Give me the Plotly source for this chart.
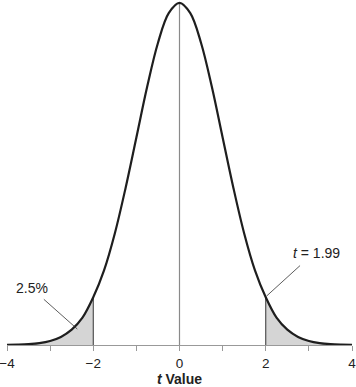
import plotly.graph_objects as go

# t values and density
t_vals = [-4.0, -3.75, -3.5, -3.25, -3.0, -2.75, -2.5, -2.25, -2.0, -1.75, -1.5, -1.25, -1.0,
          -0.75, -0.5, -0.25, 0.0, 0.25, 0.5, 0.75, 1.0, 1.25, 1.5, 1.75, 2.0, 2.25, 2.5,
          2.75, 3.0, 3.25, 3.5, 3.75, 4.0]
density = [0.0003, 0.0005, 0.0010, 0.0022, 0.0047, 0.0094, 0.0178, 0.0318, 0.0555, 0.0868,
           0.1298, 0.1828, 0.2415, 0.3005, 0.3515, 0.3862, 0.3982, 0.3862, 0.3515, 0.3005,
           0.2415, 0.1828, 0.1298, 0.0868, 0.0555, 0.0318, 0.0178, 0.0094, 0.0047, 0.0022,
           0.0010, 0.0005, 0.0003]
crit = 2.0
tick_vals = [-4, -3, -2, -1, 0, 1, 2, 3, 4]
tick_text = ["\u22124", "", "\u22122", "", "0", "", "2", "", "4"]

left_x = [x for x in t_vals if x <= -crit]
left_y = [y for x, y in zip(t_vals, density) if x <= -crit]
right_x = [x for x in t_vals if x >= crit]
right_y = [y for x, y in zip(t_vals, density) if x >= crit]
y_crit = density[t_vals.index(crit)]
peak = max(density)

fig = go.Figure()
fill_col = "#d5d5d5"
fig.add_trace(go.Scatter(x=left_x, y=left_y, fill="tozeroy", fillcolor=fill_col, mode="none",
                         line=dict(shape="spline")))
fig.add_trace(go.Scatter(x=right_x, y=right_y, fill="tozeroy", fillcolor=fill_col, mode="none",
                         line=dict(shape="spline")))
fig.add_trace(go.Scatter(x=[0, 0], y=[0, peak], mode="lines", line=dict(color="#8a8a8a", width=1.2)))
fig.add_trace(go.Scatter(x=[-crit, -crit], y=[0, y_crit], mode="lines", line=dict(color="#333", width=1)))
fig.add_trace(go.Scatter(x=[crit, crit], y=[0, y_crit], mode="lines", line=dict(color="#333", width=1)))
fig.add_trace(go.Scatter(x=t_vals, y=density, mode="lines",
                         line=dict(color="#1e1e1e", width=2.2, shape="spline")))

font = dict(family="Liberation Sans, Arial, sans-serif", size=14, color="#222")
tfont = dict(family="Liberation Sans, Arial, sans-serif", size=13.5, color="#222")
fig.add_annotation(x=-2.37, y=0.0186, ax=-3.18, ay=0.0547, xref="x", yref="y", axref="x", ayref="y",
                   showarrow=True, arrowhead=0, arrowwidth=0.8, arrowcolor="#333", text="", standoff=0)
fig.add_annotation(x=2.02, y=0.057, ax=2.83, ay=0.094, xref="x", yref="y", axref="x", ayref="y",
                   showarrow=True, arrowhead=0, arrowwidth=0.8, arrowcolor="#333", text="", standoff=0)
fig.add_annotation(x=-3.43, y=0.066, text="2.5%", showarrow=False, font=font)
fig.add_annotation(x=3.18, y=0.107, text="<i>t</i> = 1.99", showarrow=False, font=font)

fig.update_layout(
    width=356, height=387, margin=dict(l=7, r=4, t=0, b=42),
    plot_bgcolor="white", paper_bgcolor="white", showlegend=False,
    xaxis=dict(range=[-4, 4], tickvals=tick_vals, ticktext=tick_text, ticks="outside", ticklen=5,
               tickcolor="#999", showline=True, linecolor="#999", linewidth=1.2, showgrid=False,
               zeroline=False, tickfont=tfont, ticklabeloverflow="allow", ticklabelstandoff=1,
               title=dict(text="<b><i>t</i> Value</b>", font=dict(family="Liberation Sans, Arial, sans-serif", size=14, color="#222"), standoff=6)),
    yaxis=dict(range=[0, 0.4015], visible=False, showgrid=False, zeroline=False),
)
fig.write_html("out.html")
